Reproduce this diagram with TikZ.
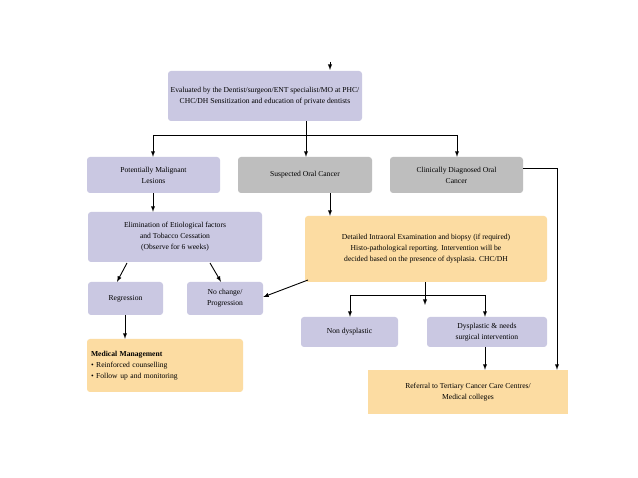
\documentclass[tikz,border=0pt]{standalone}
\usepackage{fontspec}
\setmainfont{Liberation Serif}
\begin{document}
\begin{tikzpicture}[x=1pt,y=-1pt,
  box/.style={rounded corners=3pt,draw=none,align=center,font=\fontsize{7.6}{11}\selectfont,inner sep=2pt},
  lav/.style={box,fill=lav},
  gr/.style={box,fill=grayb},
  yel/.style={box,fill=yel},
  arr/.style={-latex,line width=0.9pt,black}]
\definecolor{lav}{HTML}{CAC8E2}
\definecolor{grayb}{HTML}{BEBEBE}
\definecolor{yel}{HTML}{FCDCA2}
\useasboundingbox (0,0) rectangle (638,478);
\fill[white] (0,0) rectangle (638,478);
\node[lav,minimum width=194,minimum height=50] (top) at (265,96) {Evaluated by the Dentist/surgeon/ENT specialist/MO at PHC/\\CHC/DH Sensitization and education of private dentists};
\node[lav,minimum width=133,minimum height=36] (pml) at (153.5,175) {Potentially Malignant\\Lesions};
\node[gr,minimum width=134,minimum height=36] (soc) at (305,175) {Suspected Oral Cancer};
\node[gr,minimum width=133,minimum height=36] (cdo) at (456.5,175) {Clinically Diagnosed Oral\\Cancer};
\node[lav,minimum width=174,minimum height=50] (elim) at (175,237) {Elimination of Etiological factors\\and Tobacco Cessation\\(Observe for 6 weeks)};
\node[yel,minimum width=242,minimum height=66] (det) at (426,249) {Detailed Intraoral Examination and biopsy (if required)\\Histo-pathological reporting. Intervention will be\\decided based on the presence of dysplasia. CHC/DH};
\node[lav,minimum width=75,minimum height=33] (reg) at (125.5,298.5) {Regression};
\node[lav,minimum width=76,minimum height=33] (nch) at (225,298.5) {No change/\\Progression};
\node[lav,minimum width=97,minimum height=30] (nd) at (349.5,332) {Non dysplastic};
\node[lav,minimum width=120,minimum height=30] (dys) at (487,332) {Dysplastic \& needs\\surgical intervention};
\node[yel,minimum width=156,minimum height=53,align=left,text width=148] (med) at (165,365.5) {\textbf{Medical Management}\\\textbullet\ Reinforced counselling\\\textbullet\ Follow up and monitoring};
\node[yel,minimum width=200,minimum height=44,sharp corners] (ref) at (468,392) {Referral to Tertiary Cancer Care Centres/\\Medical colleges};
\coordinate (tip) at (330,70);
\draw[arr] (330,62) -- (tip);
\draw[line width=0.9pt] (top.south -| 306,0) -- (306,135) coordinate (j1);
\draw[line width=0.9pt] (153,135) -- (457,135);
\draw[arr] (153,135) -- (pml.north -| 153,0);
\draw[arr] (j1) -- (soc.north -| 306,0);
\draw[arr] (457,135) -- (cdo.north -| 457,0);
\draw[arr] (pml.south -| 153,0) -- (elim.north -| 153,0);
\draw[arr] (soc.south -| 330,0) -- (det.north -| 330,0);
\draw[arr] (127,263) -- (reg.north -| 117,0);
\draw[arr] (210,263) -- (nch.north -| 221,0);
\draw[arr] (308,280) -- (nch.east |- 0,297);
\draw[arr] (reg.south -| 125,0) -- (med.north -| 125,0);
\draw[line width=0.9pt] (det.south -| 425,0) -- (425,295) coordinate (j2);
\draw[arr] (j2) -- (425,305);
\draw[line width=0.9pt] (350,295) -- (485,295);
\draw[arr] (350,295) -- (nd.north -| 350,0);
\draw[arr] (485,295) -- (dys.north -| 485,0);
\draw[arr] (dys.south -| 485,0) -- (ref.north -| 485,0);
\draw[arr] (cdo.east |- 0,168) -- (557,168) -- (ref.north -| 557,0);
\end{tikzpicture}
\end{document}
